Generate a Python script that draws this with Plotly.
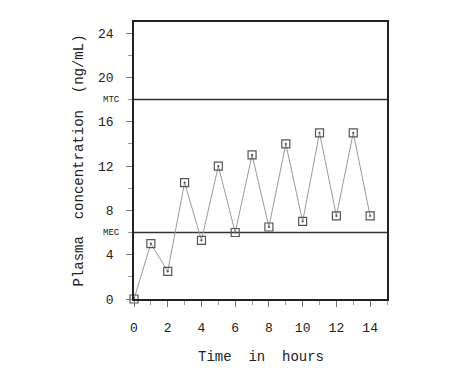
import plotly.graph_objects as go

time_h = [0, 1, 2, 3, 4, 5, 6, 7, 8, 9, 10, 11, 12, 13, 14]
conc = [0, 5, 2.5, 10.5, 5.3, 12, 6, 13, 6.5, 14, 7, 15, 7.5, 15, 7.5]
MTC = 18
MEC = 6
x_ticks = [0, 2, 4, 6, 8, 10, 12, 14]
y_ticks = [0, 4, 8, 12, 16, 20, 24]

FONT = "Liberation Mono, Courier New, monospace"

fig = go.Figure()
fig.add_trace(go.Scatter(x=[0, 15], y=[MTC, MTC], mode="lines",
                         line=dict(color="#333", width=1.5), hoverinfo="skip"))
fig.add_trace(go.Scatter(x=[0, 15], y=[MEC, MEC], mode="lines",
                         line=dict(color="#333", width=1.5), hoverinfo="skip"))
fig.add_trace(go.Scatter(x=time_h, y=conc, mode="lines+markers", cliponaxis=False,
                         line=dict(color="#9a9a9a", width=1),
                         marker=dict(symbol="square-open-dot", size=8,
                                     color="#555", line=dict(width=1.2, color="#666"))))

fig.update_layout(
    width=474, height=374,
    margin=dict(l=134, r=87, t=22, b=75),
    paper_bgcolor="white", plot_bgcolor="white",
    showlegend=False,
    font=dict(family=FONT, size=13, color="#222"),
    xaxis=dict(range=[0, 15], tickvals=x_ticks, showgrid=False, zeroline=False,
               showline=True, linecolor="#222", linewidth=1.5, mirror=True,
               ticks="outside", ticklen=6, tickcolor="#777", tickwidth=1,
               minor=dict(dtick=1, ticks="outside", ticklen=4, tickcolor="#999"),
               ticklabelstandoff=10),
    yaxis=dict(range=[0, 25], tickvals=y_ticks, showgrid=False, zeroline=False,
               showline=True, linecolor="#222", linewidth=1.5, mirror=True,
               ticks="outside", ticklen=6, tickcolor="#777", tickwidth=1,
               minor=dict(dtick=2, ticks="outside", ticklen=4, tickcolor="#999"),
               ticklabelstandoff=10),
    annotations=[
        dict(text="Time  in  hours", xref="paper", yref="paper", x=0.5, y=0,
             yshift=-68, showarrow=False, font=dict(size=14), xanchor="center"),
        dict(text="Plasma  concentration  (ng/mL)", xref="paper", yref="paper",
             x=0, y=0.5, xshift=-56, textangle=-90, showarrow=False,
             font=dict(size=14), xanchor="center", yanchor="middle"),
        dict(text="MTC", xref="paper", yref="y", x=0, y=MTC, xshift=-12,
             xanchor="right", showarrow=False, font=dict(size=9)),
        dict(text="MEC", xref="paper", yref="y", x=0, y=MEC, xshift=-12,
             xanchor="right", showarrow=False, font=dict(size=9)),
    ],
)

fig.write_html("out.html")
